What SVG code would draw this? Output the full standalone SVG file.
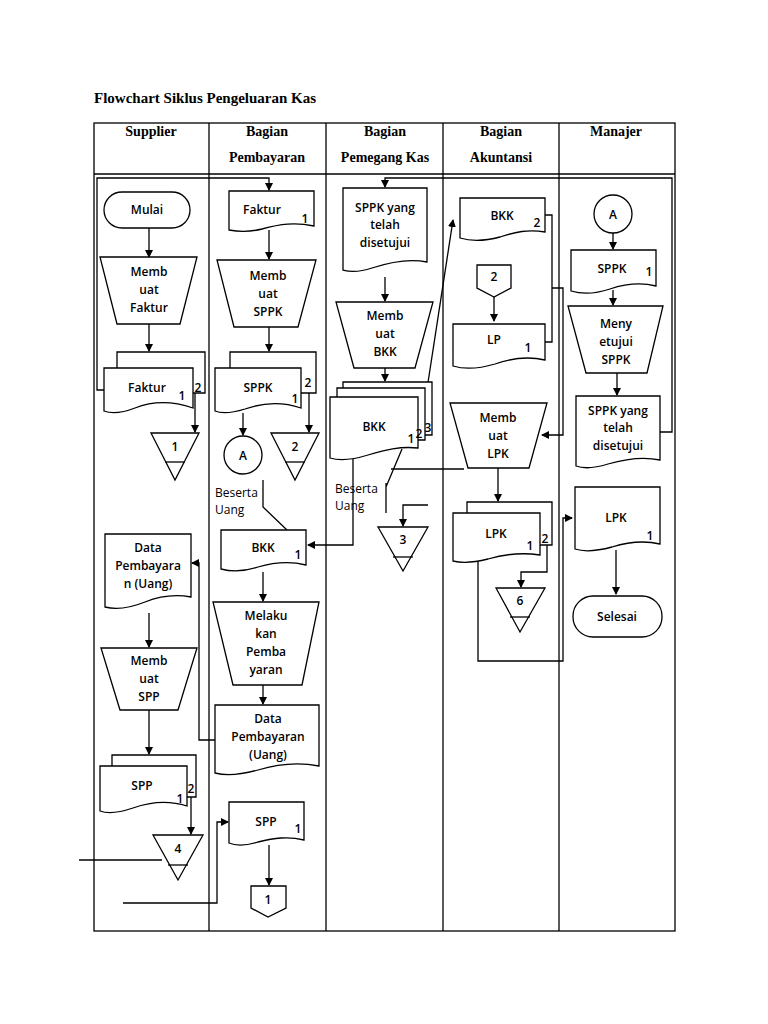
<svg xmlns="http://www.w3.org/2000/svg" width="768" height="1024" viewBox="0 0 768 1024">
<style>
.s{fill:#fff;stroke:#000;stroke-width:1.3}
.l{fill:none;stroke:#000;stroke-width:1.3}
.t{font-family:"Open Sans","Liberation Sans",sans-serif;font-size:12px;font-weight:600;text-anchor:middle}
.n{font-family:"Open Sans","Liberation Sans",sans-serif;font-size:12px;font-weight:600;text-anchor:middle}
.b{font-family:"Open Sans","Liberation Sans",sans-serif;font-size:12px;font-weight:400}
.h{font-family:"Liberation Serif",serif;font-size:14px;font-weight:bold;text-anchor:middle}
</style>
<defs><marker id="a" markerWidth="8" markerHeight="8" refX="7" refY="4" orient="auto" markerUnits="userSpaceOnUse"><path d="M0,0 L8,4 L0,8 z"/></marker></defs>
<rect width="768" height="1024" fill="#fff"/>
<text x="94" y="103" font-family="Liberation Serif,serif" font-size="15" font-weight="bold">Flowchart Siklus Pengeluaran Kas</text>
<g id="table" class="l">
<rect x="94" y="123" width="581" height="808"/>
<line x1="94" y1="174" x2="675" y2="174"/>
<line x1="209" y1="123" x2="209" y2="931"/><line x1="326" y1="123" x2="326" y2="931"/>
<line x1="443" y1="123" x2="443" y2="931"/><line x1="559" y1="123" x2="559" y2="931"/>
</g>
<g id="headers">
<text class="h" x="151" y="136">Supplier</text>
<text class="h" x="267" y="136">Bagian</text><text class="h" x="267" y="162">Pembayaran</text>
<text class="h" x="385" y="136">Bagian</text><text class="h" x="385" y="162">Pemegang Kas</text>
<text class="h" x="501" y="136">Bagian</text><text class="h" x="501" y="162">Akuntansi</text>
<text class="h" x="616" y="136">Manajer</text>
</g>
<g id="connectors" class="l">
<path d="M149,228 V257" marker-end="url(#a)"/>
<path d="M149,324 V351" marker-end="url(#a)"/>
<path d="M104,390 H97 V178 H269 V190" marker-end="url(#a)"/>
<path d="M195,393 V432" marker-end="url(#a)"/>
<path d="M269,230 V259" marker-end="url(#a)"/>
<path d="M269,327 V351" marker-end="url(#a)"/>
<path d="M243,413 V435" marker-end="url(#a)"/>
<path d="M309,393 V432" marker-end="url(#a)"/>
<path d="M263,480 V507 L287,530"/>
<path d="M353,458 V545 H308" marker-end="url(#a)"/>
<path d="M263,572 V601" marker-end="url(#a)"/>
<path d="M263,685 V704" marker-end="url(#a)"/>
<path d="M215,740 H199 V563 H192" marker-end="url(#a)"/>
<path d="M123,903 H217 V822 H228" marker-end="url(#a)"/>
<path d="M269,845 V885" marker-end="url(#a)"/>
<path d="M149,613 V647" marker-end="url(#a)"/>
<path d="M149,710 V754" marker-end="url(#a)"/>
<path d="M191,797 V834" marker-end="url(#a)"/>
<path d="M79,860 H162"/>
<path d="M660,432 H672 V178 H385 V187" marker-end="url(#a)"/>
<path d="M385,277 V301" marker-end="url(#a)"/>
<path d="M385,368 V381" marker-end="url(#a)"/>
<path d="M425,402 L453,220" marker-end="url(#a)"/>
<path d="M402,449 L386,487 M386,483 V513"/>
<path d="M391,469 H464"/>
<path d="M428,505 H403 V526" marker-end="url(#a)"/>
<path d="M545,215 H552 V342 H545"/>
<path d="M552,288 H563 V435 H542" marker-end="url(#a)"/>
<path d="M494,297 V321" marker-end="url(#a)"/>
<path d="M498,468 V501" marker-end="url(#a)"/>
<path d="M547,545 V572 H521 V587" marker-end="url(#a)"/>
<path d="M478,561 V661 H563 V518 H572" marker-end="url(#a)"/>
<path d="M613,233 V249" marker-end="url(#a)"/>
<path d="M613,290 V305" marker-end="url(#a)"/>
<path d="M617,373 V395" marker-end="url(#a)"/>
<path d="M616,550 V594" marker-end="url(#a)"/>
</g>
<g id="mulai"><rect class="s" x="104" y="192" width="86" height="36" rx="18"/><text class="t" x="147" y="214">Mulai</text></g>
<g id="membuat-faktur"><path class="s" d="M100,257 H197 L180,324 H117 Z"/><text class="t" x="149" y="276">Memb</text><text class="t" x="149" y="294">uat</text><text class="t" x="149" y="312">Faktur</text></g>
<g id="faktur-sup"><path class="s" d="M117,368 V352 H205 V393 H193"/><path class="s" d="M104,368 H193 V408 C170,400 150,402 135,408 C122,413 112,414 104,411 Z"/><text class="t" x="147" y="392">Faktur</text><text class="n" x="182" y="400">1</text><text class="n" x="198" y="392">2</text></g>
<g id="arsip1"><path class="s" d="M151,433 H199 L175,480 Z"/><line class="l" x1="165" y1="462" x2="185" y2="462"/><text class="n" x="175" y="451">1</text></g>
<g id="faktur-pb"><path class="s" d="M229,191 H314 V226 C295,222 280,224 262,229 C250,232 240,232 229,230 Z"/><text class="t" x="262" y="214">Faktur</text><text class="n" x="305" y="223">1</text></g>
<g id="membuat-sppk"><path class="s" d="M217,260 H316 L298,327 H234 Z"/><text class="t" x="268" y="280">Memb</text><text class="t" x="268" y="298">uat</text><text class="t" x="268" y="316">SPPK</text></g>
<g id="sppk-pb"><path class="s" d="M230,368 V352 H316 V393 H301"/><path class="s" d="M215,368 H301 V408 C280,401 262,403 245,409 C232,413 222,414 215,411 Z"/><text class="t" x="258" y="392">SPPK</text><text class="n" x="295" y="403">1</text><text class="n" x="308" y="387">2</text></g>
<g id="conA1"><circle class="s" cx="243" cy="455" r="19"/><text class="t" x="243" y="460">A</text></g>
<g id="arsip2"><path class="s" d="M271,433 H319 L295,480 Z"/><line class="l" x1="285" y1="462" x2="305" y2="462"/><text class="n" x="295" y="451">2</text></g>
<text class="b" x="215" y="497">Beserta</text>
<text class="b" x="215" y="514">Uang</text>
<g id="bkk-pb"><path class="s" d="M221,530 H306 V565 C290,561 275,562 258,567 C243,572 232,572 221,569 Z"/><text class="t" x="263" y="552">BKK</text><text class="n" x="298" y="559">1</text></g>
<g id="melakukan"><path class="s" d="M213,602 H319 L302,685 H233 Z"/><text class="t" x="266" y="620">Melaku</text><text class="t" x="266" y="638">kan</text><text class="t" x="266" y="656">Pemba</text><text class="t" x="266" y="674">yaran</text></g>
<g id="datapemb-pb"><path class="s" d="M215,705 H319 V766 C298,762 278,764 258,770 C240,775 226,776 215,773 Z"/><text class="t" x="268" y="723">Data</text><text class="t" x="268" y="741">Pembayaran</text><text class="t" x="268" y="759">(Uang)</text></g>
<g id="spp-pb"><path class="s" d="M229,802 H304 V840 C288,836 274,838 258,842 C245,846 236,846 229,843 Z"/><text class="t" x="266" y="826">SPP</text><text class="n" x="298" y="833">1</text></g>
<g id="off1"><path class="s" d="M251,886 H286 V908 L268,917 L251,908 Z"/><text class="n" x="268" y="904">1</text></g>
<g id="datapemb-sup"><path class="s" d="M105,534 H191 V597 C175,594 160,596 145,602 C130,608 116,610 105,607 Z"/><text class="t" x="148" y="552">Data</text><text class="t" x="148" y="570">Pembayara</text><text class="t" x="148" y="588">n (Uang)</text></g>
<g id="membuat-spp"><path class="s" d="M101,648 H197 L178,710 H120 Z"/><text class="t" x="149" y="665">Memb</text><text class="t" x="149" y="683">uat</text><text class="t" x="149" y="701">SPP</text></g>
<g id="spp-sup"><path class="s" d="M112,766 V755 H196 V797 H187"/><path class="s" d="M100,766 H187 V806 C168,800 150,802 133,808 C118,813 108,814 100,811 Z"/><text class="t" x="142" y="790">SPP</text><text class="n" x="180" y="803">1</text><text class="n" x="191" y="793">2</text></g>
<g id="arsip4"><path class="s" d="M153,835 H203 L178,880 Z"/><line class="l" x1="168" y1="865" x2="188" y2="865"/><text class="n" x="178" y="853">4</text></g>
<g id="sppk-disetujui-pk"><path class="s" d="M343,188 H427 V262 C408,258 390,262 372,268 C360,272 350,272 343,270 Z"/><text class="t" x="385" y="212">SPPK yang</text><text class="t" x="385" y="229">telah</text><text class="t" x="385" y="247">disetujui</text></g>
<g id="membuat-bkk"><path class="s" d="M336,302 H433 L415,368 H354 Z"/><text class="t" x="385" y="320">Memb</text><text class="t" x="385" y="338">uat</text><text class="t" x="385" y="356">BKK</text></g>
<g id="bkk-pk"><path class="s" d="M343,388 V382 H432 V435 H425"/><path class="s" d="M337,397 V388 H425 V440 H418"/><path class="s" d="M330,397 H418 V448 C400,446 385,450 368,455 C352,460 340,461 330,458 Z"/><text class="t" x="374" y="431">BKK</text><text class="n" x="411" y="443">1</text><text class="n" x="419" y="438">2</text><text class="n" x="428" y="432">3</text></g>
<text class="b" x="335" y="493">Beserta</text>
<text class="b" x="335" y="510">Uang</text>
<g id="arsip3"><path class="s" d="M378,527 H428 L403,571 Z"/><line class="l" x1="393" y1="557" x2="413" y2="557"/><text class="n" x="403" y="544">3</text></g>
<g id="bkk-ak"><path class="s" d="M460,198 H545 V232 C528,229 515,232 500,237 C485,241 470,241 460,238 Z"/><text class="t" x="502" y="220">BKK</text><text class="n" x="537" y="227">2</text></g>
<g id="off2"><path class="s" d="M477,265 H511 V288 L494,297 L477,288 Z"/><text class="n" x="494" y="281">2</text></g>
<g id="lp"><path class="s" d="M453,324 H545 V360 C528,356 512,358 495,364 C478,369 463,369 453,366 Z"/><text class="t" x="494" y="344">LP</text><text class="n" x="528" y="352">1</text></g>
<g id="membuat-lpk"><path class="s" d="M450,403 H547 L529,468 H468 Z"/><text class="t" x="498" y="422">Memb</text><text class="t" x="498" y="440">uat</text><text class="t" x="498" y="458">LPK</text></g>
<g id="lpk-ak"><path class="s" d="M467,513 V502 H552 V545 H540"/><path class="s" d="M453,513 H540 V555 C520,552 505,554 488,559 C472,563 461,563 453,561 Z"/><text class="t" x="496" y="538">LPK</text><text class="n" x="530" y="550">1</text><text class="n" x="545" y="543">2</text></g>
<g id="arsip6"><path class="s" d="M496,588 H545 L520,632 Z"/><line class="l" x1="510" y1="617" x2="530" y2="617"/><text class="n" x="520" y="605">6</text></g>
<g id="conA2"><circle class="s" cx="613" cy="214" r="19"/><text class="t" x="613" y="219">A</text></g>
<g id="sppk-mj"><path class="s" d="M571,250 H656 V286 C640,282 625,284 610,289 C595,294 581,294 571,291 Z"/><text class="t" x="612" y="273">SPPK</text><text class="n" x="649" y="276">1</text></g>
<g id="menyetujui"><path class="s" d="M568,306 H663 L647,373 H586 Z"/><text class="t" x="616" y="328">Meny</text><text class="t" x="616" y="346">etujui</text><text class="t" x="616" y="364">SPPK</text></g>
<g id="sppk-disetujui-mj"><path class="s" d="M576,396 H660 V460 C642,456 625,459 608,464 C595,468 584,469 576,466 Z"/><text class="t" x="618" y="415">SPPK yang</text><text class="t" x="618" y="432">telah</text><text class="t" x="618" y="450">disetujui</text></g>
<g id="lpk-mj"><path class="s" d="M575,487 H660 V544 C643,540 628,542 612,547 C597,551 584,552 575,549 Z"/><text class="t" x="616" y="522">LPK</text><text class="n" x="650" y="540">1</text></g>
<g id="selesai"><rect class="s" x="573" y="596" width="89" height="41" rx="20"/><text class="t" x="617" y="621">Selesai</text></g>
</svg>
